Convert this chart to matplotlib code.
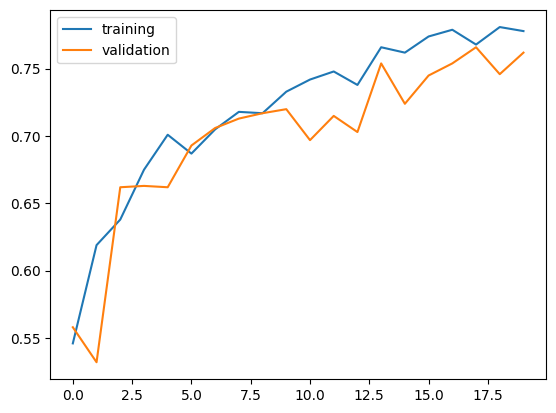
import matplotlib
matplotlib.use("Agg")
import matplotlib.pyplot as plt

epochs = list(range(20))
training = [0.546, 0.619, 0.638, 0.675, 0.701, 0.687, 0.705, 0.718, 0.717, 0.733,
            0.742, 0.748, 0.738, 0.766, 0.762, 0.774, 0.779, 0.768, 0.781, 0.778]
validation = [0.558, 0.532, 0.662, 0.663, 0.662, 0.693, 0.706, 0.713, 0.717, 0.720,
              0.697, 0.715, 0.703, 0.754, 0.724, 0.745, 0.754, 0.766, 0.746, 0.762]

fig = plt.figure(figsize=(5.56, 4.13), dpi=100)
# axes box: x 50..546, y 10..379 px
plt.subplots_adjust(left=50.3 / 556, right=546 / 556, top=1 - 10.3 / 413, bottom=1 - 379 / 413)
plt.plot(epochs, training, label="training")
plt.plot(epochs, validation, label="validation")
plt.legend(loc="upper left")
plt.savefig("out.png")
